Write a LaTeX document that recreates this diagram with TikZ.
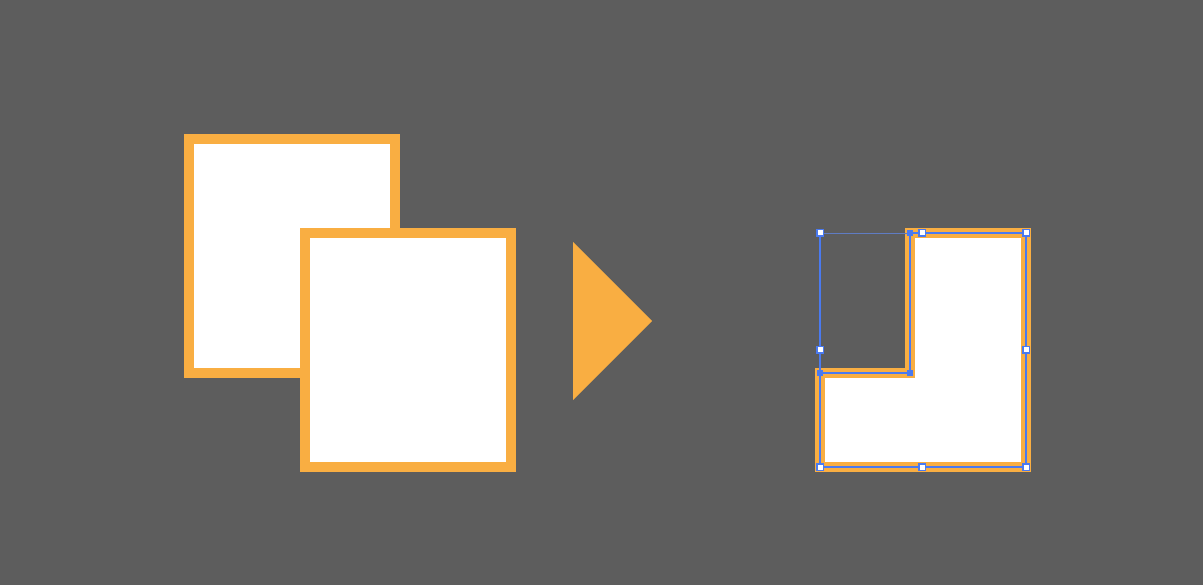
\documentclass[tikz,border=0pt]{standalone}
\usepackage{tikz}

\definecolor{bggray}{HTML}{5D5D5D}
\definecolor{boxorange}{HTML}{F9AE42}
\definecolor{selblue}{HTML}{4A7AF0}

\begin{document}
\begin{tikzpicture}[x=1pt,y=-1pt]
  \fill[bggray] (0,0) rectangle (1203,585);
  \useasboundingbox (0,0) rectangle (1203,585);

  \filldraw[fill=white,draw=boxorange,line width=10pt] (189,139) rectangle (395,373);
  \filldraw[fill=white,draw=boxorange,line width=10pt] (305,233) rectangle (511,467);

  \fill[boxorange] (573,242) -- (652,321) -- (573,400) -- cycle;

  \filldraw[fill=white,draw=boxorange,line width=10pt] (820,467) -- (1026,467) -- (1026,233)
    -- (910,233) -- (910,373) -- (820,373) -- cycle;

  \draw[selblue!60!gray,line width=0.8pt] (820,233) -- (910,233);
  \draw[selblue,line width=1.2pt] (820,233) -- (820,373);
  \draw[selblue,line width=1.2pt] (820,467) -- (1026,467) -- (1026,233)
    -- (910,233) -- (910,373) -- (820,373) -- cycle;

  \filldraw[fill=selblue,draw=selblue] (907.5,230.5) rectangle (912.5,235.5);
  \filldraw[fill=selblue,draw=selblue] (907.5,370.5) rectangle (912.5,375.5);
  \filldraw[fill=selblue,draw=selblue] (817.5,370.5) rectangle (822.5,375.5);

  \filldraw[fill=white,draw=selblue,line width=1.4pt] (816.8,229.8) rectangle (823.2,236.2);
  \filldraw[fill=white,draw=selblue,line width=1.4pt] (918.8,229.8) rectangle (925.2,236.2);
  \filldraw[fill=white,draw=selblue,line width=1.4pt] (1022.8,229.8) rectangle (1029.2,236.2);
  \filldraw[fill=white,draw=selblue,line width=1.4pt] (816.8,346.8) rectangle (823.2,353.2);
  \filldraw[fill=white,draw=selblue,line width=1.4pt] (1022.8,346.8) rectangle (1029.2,353.2);
  \filldraw[fill=white,draw=selblue,line width=1.4pt] (816.8,463.8) rectangle (823.2,470.2);
  \filldraw[fill=white,draw=selblue,line width=1.4pt] (918.8,463.8) rectangle (925.2,470.2);
  \filldraw[fill=white,draw=selblue,line width=1.4pt] (1022.8,463.8) rectangle (1029.2,470.2);

\end{tikzpicture}
\end{document}
